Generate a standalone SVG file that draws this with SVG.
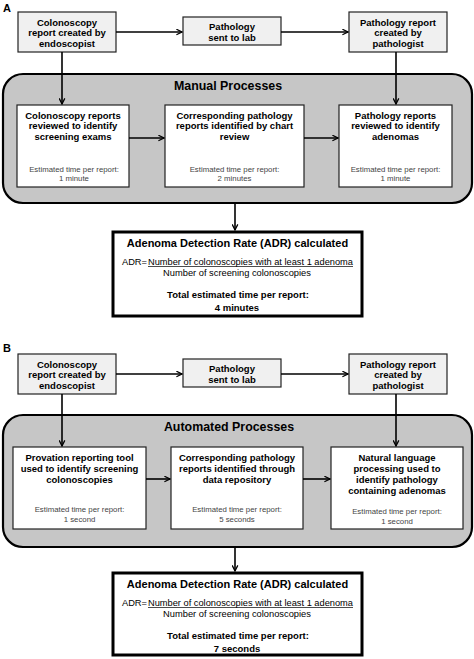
<svg xmlns="http://www.w3.org/2000/svg" width="474" height="659" viewBox="0 0 474 659">
<defs>
<marker id="arr" viewBox="0 0 10 10" refX="9" refY="5" markerWidth="7" markerHeight="7" markerUnits="userSpaceOnUse" orient="auto">
<path d="M1,1 L9,5 L1,9" fill="none" stroke="#000" stroke-width="1.8"/>
</marker>
<style>
text{font-family:"Liberation Sans",Arial,sans-serif;fill:#000}
.b{font-weight:bold;font-size:9.5px;text-anchor:middle}
.t{font-weight:bold;font-size:12.4px;text-anchor:middle}
.e{font-size:7.8px;text-anchor:middle;fill:#444}
.lab{font-weight:bold;font-size:11px}
.adrt{font-weight:bold;font-size:11px;text-anchor:middle}
.f{font-size:9.3px}
.top{fill:#f0f0f0;stroke:#222;stroke-width:1.2}
.outer{fill:#c6c6c6;stroke:#000;stroke-width:2.2}
.inner{fill:#fff;stroke:#222;stroke-width:1.2}
.adr{fill:#fff;stroke:#000;stroke-width:3}
.c{stroke:#000;stroke-width:1.6;fill:none}
</style>
</defs>
<rect width="474" height="659" fill="#fff"/>

<!-- Panel A -->
<text class="lab" x="3" y="12">A</text>
<g id="a-outer">
<rect class="outer" x="3" y="74" width="469" height="129" rx="20"/>
<text class="t" x="228" y="90">Manual Processes</text>
</g>
<g id="a-top1"><rect class="top" x="18" y="12" width="98" height="40"/>
<text class="b" x="67" y="25.5">Colonoscopy</text><text class="b" x="67" y="36">report created by</text><text class="b" x="67" y="46.5">endoscopist</text></g>
<g id="a-top2"><rect class="top" x="183" y="17" width="98" height="28"/>
<text class="b" x="232" y="30">Pathology</text><text class="b" x="232" y="40.5">sent to lab</text></g>
<g id="a-top3"><rect class="top" x="349" y="12" width="98" height="40"/>
<text class="b" x="398" y="25.5">Pathology report</text><text class="b" x="398" y="36">created by</text><text class="b" x="398" y="46.5">pathologist</text></g>
<g id="a-in1"><rect class="inner" x="17" y="105" width="112" height="82"/>
<text class="b" x="73" y="118.5">Colonoscopy reports</text><text class="b" x="73" y="129">reviewed to identify</text><text class="b" x="73" y="139.5">screening exams</text>
<text class="e" x="74" y="172">Estimated time per report:</text><text class="e" x="74" y="180.5">1 minute</text></g>
<g id="a-in2"><rect class="inner" x="165" y="105" width="139" height="82"/>
<text class="b" x="234.5" y="118.5">Corresponding pathology</text><text class="b" x="234.5" y="129">reports identified by chart</text><text class="b" x="234.5" y="139.5">review</text>
<text class="e" x="234.5" y="172">Estimated time per report:</text><text class="e" x="234.5" y="180.5">2 minutes</text></g>
<g id="a-in3"><rect class="inner" x="339" y="105" width="113" height="82"/>
<text class="b" x="395.5" y="118.5">Pathology reports</text><text class="b" x="395.5" y="129">reviewed to identify</text><text class="b" x="395.5" y="139.5">adenomas</text>
<text class="e" x="395.5" y="172">Estimated time per report:</text><text class="e" x="395.5" y="180.5">1 minute</text></g>
<g id="a-adr"><rect class="adr" x="113" y="232" width="249" height="84"/>
<text class="adrt" x="237.5" y="246.5">Adenoma Detection Rate (ADR) calculated</text>
<text class="f" x="147" y="265" text-anchor="end">ADR=</text>
<text class="f" x="148" y="265" textLength="205" lengthAdjust="spacingAndGlyphs">Number of colonoscopies with at least 1 adenoma</text>
<line x1="148" y1="266.5" x2="353" y2="266.5" stroke="#000" stroke-width="0.7"/>
<text class="f" x="237" y="276" text-anchor="middle">Number of screening colonoscopies</text>
<text class="b" x="238" y="298">Total estimated time per report:</text>
<text class="b" x="237" y="311">4 minutes</text></g>

<!-- Panel B -->
<text class="lab" x="3" y="352">B</text>
<g id="b-outer">
<rect class="outer" x="3" y="415" width="469" height="132" rx="20"/>
<text class="t" x="229" y="431">Automated Processes</text>
</g>
<g id="b-top1"><rect class="top" x="18" y="354" width="98" height="40"/>
<text class="b" x="67" y="367.5">Colonoscopy</text><text class="b" x="67" y="378">report created by</text><text class="b" x="67" y="388.5">endoscopist</text></g>
<g id="b-top2"><rect class="top" x="183" y="359" width="98" height="28"/>
<text class="b" x="232" y="372">Pathology</text><text class="b" x="232" y="382.5">sent to lab</text></g>
<g id="b-top3"><rect class="top" x="349" y="354" width="98" height="40"/>
<text class="b" x="398" y="367.5">Pathology report</text><text class="b" x="398" y="378">created by</text><text class="b" x="398" y="388.5">pathologist</text></g>
<g id="b-in1"><rect class="inner" x="13" y="447" width="133" height="82"/>
<text class="b" x="79.5" y="460.5">Provation reporting tool</text><text class="b" x="79.5" y="471.5">used to identify screening</text><text class="b" x="79.5" y="482.5">colonoscopies</text>
<text class="e" x="79.5" y="512">Estimated time per report:</text><text class="e" x="79.5" y="521.5">1 second</text></g>
<g id="b-in2"><rect class="inner" x="171" y="447" width="132" height="82"/>
<text class="b" x="237" y="460.5">Corresponding pathology</text><text class="b" x="237" y="471.5">reports identified through</text><text class="b" x="237" y="482.5">data repository</text>
<text class="e" x="237" y="512">Estimated time per report:</text><text class="e" x="237" y="521.5">5 seconds</text></g>
<g id="b-in3"><rect class="inner" x="331" y="447" width="132" height="82"/>
<text class="b" x="397" y="460.5">Natural language</text><text class="b" x="397" y="471.5">processing used to</text><text class="b" x="397" y="482.5">identify pathology</text><text class="b" x="397" y="494">containing adenomas</text>
<text class="e" x="397" y="514">Estimated time per report:</text><text class="e" x="397" y="523.5">1 second</text></g>
<g id="b-adr"><rect class="adr" x="113" y="573" width="249" height="82"/>
<text class="adrt" x="237.5" y="587.5">Adenoma Detection Rate (ADR) calculated</text>
<text class="f" x="147" y="606" text-anchor="end">ADR=</text>
<text class="f" x="148" y="606" textLength="205" lengthAdjust="spacingAndGlyphs">Number of colonoscopies with at least 1 adenoma</text>
<line x1="148" y1="607.5" x2="353" y2="607.5" stroke="#000" stroke-width="0.7"/>
<text class="f" x="237" y="617" text-anchor="middle">Number of screening colonoscopies</text>
<text class="b" x="238" y="639">Total estimated time per report:</text>
<text class="b" x="237" y="652">7 seconds</text></g>

<g id="connectors">
<line class="c" x1="116" y1="32" x2="182" y2="32" marker-end="url(#arr)"/>
<line class="c" x1="281" y1="32" x2="348" y2="32" marker-end="url(#arr)"/>
<line class="c" x1="62" y1="52" x2="62" y2="104" marker-end="url(#arr)"/>
<line class="c" x1="396" y1="52" x2="396" y2="104" marker-end="url(#arr)"/>
<line class="c" x1="129" y1="138" x2="164" y2="138" marker-end="url(#arr)"/>
<line class="c" x1="304" y1="138" x2="338" y2="138" marker-end="url(#arr)"/>
<line class="c" x1="235" y1="204" x2="235" y2="230" marker-end="url(#arr)"/>
<line class="c" x1="116" y1="374" x2="182" y2="374" marker-end="url(#arr)"/>
<line class="c" x1="281" y1="374" x2="348" y2="374" marker-end="url(#arr)"/>
<line class="c" x1="62" y1="394" x2="62" y2="446" marker-end="url(#arr)"/>
<line class="c" x1="396" y1="394" x2="396" y2="446" marker-end="url(#arr)"/>
<line class="c" x1="146" y1="479" x2="170" y2="479" marker-end="url(#arr)"/>
<line class="c" x1="303" y1="479" x2="330" y2="479" marker-end="url(#arr)"/>
<line class="c" x1="235" y1="548" x2="235" y2="571" marker-end="url(#arr)"/>
</g>
</svg>
